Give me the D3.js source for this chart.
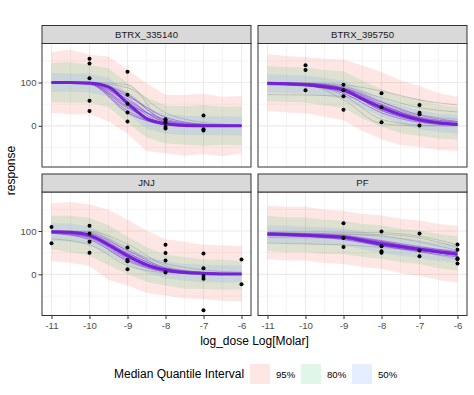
<!DOCTYPE html>
<html>
<head>
<meta charset="utf-8">
<script src="https://cdn.jsdelivr.net/npm/d3@7"></script>
<style>
  body { margin: 0; background: #fff; }
  svg { display: block; font-family: "Liberation Sans", Arial, sans-serif; }
</style>
</head>
<body>
<div id="chart"></div>
<script>
var panelNames = ['BTRX_335140', 'BTRX_395750', 'JNJ', 'PF'];
var doseGrid = [-11, -10.5, -10, -9.5, -9, -8.5, -8, -7.5, -7, -6.5, -6];
var doseTicks = [-11, -10, -9, -8, -7, -6];
var responseTicks = [0, 100];
var intervalLabels = ['95%', '80%', '50%'];

// BTRX_335140
var median335140 = [100, 100, 99, 90, 52, 17, 5, 1, 0, 0, 0];
var hi95_335140 = [170, 176, 164, 160, 130, 98, 72, 71, 74, 67, 69];
var lo95_335140 = [30, 26, 27, 10, -18, -58, -63, -69, -65, -70, -64];
var hi80_335140 = [145, 147, 141, 133, 99, 66, 47, 46, 48, 44, 45];
var lo80_335140 = [55, 53, 54, 43, 7, -27, -41, -43, -46, -44, -45];
var hi50_335140 = [122, 121, 120, 111, 76, 41, 27, 23, 22, 22, 21];
var lo50_335140 = [78, 79, 77, 67, 28, -6, -18, -21, -22, -22, -23];
var gray335140 = [
  [100, 100, 95, 8, 1, 0],
  [100, 99, 88, 30, 8, 2],
  [100, 97, 40, 5, 0, 0],
  [100, 99, 75, 12, 1, 0],
  [99, 95, 30, 3, 0, 0]
];
var purple335140 = [
  [100, 99, 55, 5, 0, 0],
  [100, 98, 45, 3, 0, 0],
  [100, 99, 62, 8, 1, 0],
  [100, 97, 30, 4, 0, 0],
  [100, 99, 72, 12, 2, 0],
  [100, 98, 50, 15, 3, 1],
  [99, 96, 35, 2, 0, 0],
  [100, 99, 68, 20, 4, 1],
  [100, 98, 58, 10, 1, 0],
  [100, 97, 42, 6, 1, 0]
];
var dose335140 = [-10, -10, -10, -10, -10, -9, -9, -9, -9, -9, -8, -8, -8, -8, -8, -7, -7, -7];
var resp335140 = [155, 144, 110, 58, 34, 125, 72, 51, 31, 10, 15, 11, 7, -2, -6, 24, -8, -11];

// BTRX_395750
var median395750 = [98, 97, 95, 90, 83, 62, 42, 26, 14, 7, 3];
var hi95_395750 = [165, 161, 159, 155, 153, 139, 124, 105, 92, 75, 67];
var lo95_395750 = [34, 31, 29, 21, 13, -12, -31, -45, -49, -56, -58];
var hi80_395750 = [138, 136, 135, 129, 126, 104, 85, 69, 62, 49, 43];
var lo80_395750 = [57, 55, 54, 47, 41, 17, -2, -17, -23, -30, -32];
var hi50_395750 = [119, 118, 116, 111, 104, 84, 63, 47, 36, 28, 25];
var lo50_395750 = [77, 76, 74, 69, 62, 40, 21, 5, -8, -14, -18];
var gray395750 = [
  [100, 99, 95, 80, 60, 48],
  [100, 98, 90, 65, 42, 32],
  [98, 96, 80, 40, 18, 10],
  [97, 95, 60, 5, 0, 0],
  [95, 92, 70, 15, 2, 0],
  [100, 99, 92, 55, 20, 8],
  [72, 71, 68, 45, 25, 15]
];
var purple395750 = [
  [98, 96, 84, 42, 14, 3],
  [99, 97, 86, 48, 18, 5],
  [97, 95, 80, 36, 10, 2],
  [99, 98, 88, 55, 25, 10],
  [96, 93, 75, 30, 8, 1],
  [98, 97, 85, 45, 20, 8],
  [100, 98, 82, 35, 12, 4],
  [95, 92, 78, 40, 15, 5],
  [99, 97, 87, 50, 16, 3],
  [97, 96, 83, 39, 11, 2]
];
var dose395750 = [-10, -10, -10, -9, -9, -9, -9, -8, -8, -8, -7, -7, -7, -7];
var resp395750 = [140, 129, 82, 95, 82, 68, 37, 75, 43, 8, 48, 30, 27, 1];

// JNJ
var medianJNJ = [98, 97, 90, 68, 43, 22, 10, 4, 2, 1, 1];
var hi95_JNJ = [164, 167, 161, 149, 126, 101, 81, 75, 68, 67, 65];
var lo95_JNJ = [31, 26, 20, -13, -26, -43, -49, -56, -57, -61, -62];
var hi80_JNJ = [135, 135, 130, 113, 87, 63, 45, 40, 34, 34, 31];
var lo80_JNJ = [58, 51, 43, 21, 1, -17, -26, -33, -34, -36, -35];
var hi50_JNJ = [118, 117, 111, 89, 64, 42, 30, 24, 22, 21, 20];
var lo50_JNJ = [78, 76, 68, 46, 22, 3, -9, -15, -18, -19, -19];
var grayJNJ = [
  [100, 99, 70, 20, 5, 2],
  [82, 68, 20, 4, 1, 0],
  [100, 96, 60, 15, 4, 1],
  [95, 82, 30, 6, 1, 0],
  [100, 98, 55, 25, 10, 5]
];
var purpleJNJ = [
  [98, 90, 45, 10, 2, 1],
  [99, 92, 50, 12, 3, 1],
  [97, 86, 38, 8, 2, 0],
  [98, 88, 42, 11, 3, 1],
  [100, 94, 55, 15, 4, 1],
  [96, 84, 35, 7, 1, 0],
  [99, 91, 48, 14, 5, 2],
  [95, 80, 32, 6, 1, 0],
  [98, 89, 44, 9, 2, 0],
  [97, 87, 40, 12, 3, 1]
];
var doseJNJ = [-11, -11, -10, -10, -10, -10, -9, -9, -9, -9, -8, -8, -8, -8, -7, -7, -7, -7, -7, -6, -6];
var respJNJ = [109, 72, 112, 94, 75, 50, 62, 33, 30, 12, 68, 49, 32, 4, 48, 14, -4, -10, -83, 34, -23];

// PF
var medianPF = [93, 92, 90, 88, 86, 78, 70, 64, 58, 52, 47];
var hi95_PF = [158, 156, 156, 149, 147, 139, 136, 128, 124, 116, 112];
var lo95_PF = [35, 32, 32, 26, 24, 17, 13, 3, -3, -13, -19];
var hi80_PF = [135, 132, 131, 126, 124, 116, 113, 105, 101, 93, 88];
var lo80_PF = [54, 51, 51, 47, 47, 40, 36, 28, 24, 14, 8];
var hi50_PF = [113, 112, 110, 108, 106, 99, 91, 85, 79, 73, 68];
var lo50_PF = [73, 72, 70, 68, 66, 58, 49, 43, 37, 31, 26];
var grayPF = [
  [98, 98, 97, 96, 88, 68],
  [72, 70, 68, 62, 52, 35],
  [95, 94, 92, 88, 75, 55],
  [85, 84, 82, 76, 60, 40],
  [96, 95, 93, 92, 84, 62]
];
var purplePF = [
  [93, 91, 86, 72, 58, 47],
  [95, 93, 88, 75, 60, 50],
  [90, 88, 83, 68, 55, 44],
  [94, 92, 87, 74, 62, 52],
  [92, 89, 82, 66, 52, 40],
  [96, 94, 90, 78, 64, 52],
  [89, 87, 80, 65, 54, 45],
  [93, 92, 88, 76, 58, 43],
  [94, 91, 85, 70, 57, 46],
  [91, 90, 86, 73, 60, 48]
];
var dosePF = [-9, -9, -9, -8, -8, -8, -8, -7, -7, -7, -6, -6, -6, -6, -6];
var respPF = [118, 84, 63, 99, 65, 53, 50, 94, 55, 42, 69, 57, 37, 35, 25];

// table of panels built from the arrays above
var panelData = [
  {median: median335140, bands: [[lo95_335140, hi95_335140], [lo80_335140, hi80_335140], [lo50_335140, hi50_335140]],
   gray: gray335140, purple: purple335140, dose: dose335140, resp: resp335140},
  {median: median395750, bands: [[lo95_395750, hi95_395750], [lo80_395750, hi80_395750], [lo50_395750, hi50_395750]],
   gray: gray395750, purple: purple395750, dose: dose395750, resp: resp395750},
  {median: medianJNJ, bands: [[lo95_JNJ, hi95_JNJ], [lo80_JNJ, hi80_JNJ], [lo50_JNJ, hi50_JNJ]],
   gray: grayJNJ, purple: purpleJNJ, dose: doseJNJ, resp: respJNJ},
  {median: medianPF, bands: [[lo95_PF, hi95_PF], [lo80_PF, hi80_PF], [lo50_PF, hi50_PF]],
   gray: grayPF, purple: purplePF, dose: dosePF, resp: respPF}
];
panelData.forEach(function(p, i) { p.name = panelNames[i]; });

var width = 474,
    height = 395,
    panelW = 209,
    stripH = 18,
    bodyH = 123.5,
    gap = 7,
    margin = {left: 42, top: 25.5};

var bandFill = ['#F8766D', '#00BA38', '#619CFF'],
    bandAlpha = [0.18, 0.12, 0.17];

var svg = d3.select('#chart').append('svg')
    .attr('width', width)
    .attr('height', height);

var xScale = d3.scaleLinear().domain([-11.25, -5.75]).range([0, panelW]);
var yScale = d3.scaleLinear().domain([-95, 190]).range([stripH + bodyH, stripH]);

var area = d3.area()
    .x(function(d, j) { return xScale(doseGrid[j]); })
    .y0(function(d) { return yScale(d[0]); })
    .y1(function(d) { return yScale(d[1]); });

var medianLine = d3.line()
    .x(function(d, j) { return xScale(doseGrid[j]); })
    .y(function(d) { return yScale(d); })
    .curve(d3.curveMonotoneX);

var drawLine = d3.line()
    .x(function(d, j) { return xScale(doseTicks[j]); })
    .y(function(d) { return yScale(d); })
    .curve(d3.curveMonotoneX);

panelData.forEach(function(p, i) {
    var col = i % 2, row = Math.floor(i / 2);
    var g = svg.append('g')
        .attr('transform', 'translate(' + (margin.left + col * (panelW + gap)) + ',' + (margin.top + row * (stripH + bodyH + gap)) + ')');

    // grid
    var grid = g.append('g');
    grid.selectAll('line.minx').data([-10.5, -9.5, -8.5, -7.5, -6.5]).enter().append('line')
        .attr('x1', xScale).attr('x2', xScale)
        .attr('y1', stripH).attr('y2', stripH + bodyH)
        .attr('stroke', '#EBEBEB').attr('stroke-width', 0.55);
    grid.selectAll('line.miny').data([-50, 50, 150]).enter().append('line')
        .attr('x1', 0).attr('x2', panelW)
        .attr('y1', yScale).attr('y2', yScale)
        .attr('stroke', '#EBEBEB').attr('stroke-width', 0.55);
    grid.selectAll('line.majx').data(doseTicks).enter().append('line')
        .attr('x1', xScale).attr('x2', xScale)
        .attr('y1', stripH).attr('y2', stripH + bodyH)
        .attr('stroke', '#EBEBEB').attr('stroke-width', 1.1);
    grid.selectAll('line.majy').data(responseTicks).enter().append('line')
        .attr('x1', 0).attr('x2', panelW)
        .attr('y1', yScale).attr('y2', yScale)
        .attr('stroke', '#EBEBEB').attr('stroke-width', 1.1);

    // quantile ribbons
    p.bands.forEach(function(b, k) {
        g.append('path')
            .datum(d3.zip(b[0], b[1]))
            .attr('d', area)
            .attr('fill', bandFill[k])
            .attr('fill-opacity', bandAlpha[k]);
    });

    g.selectAll('path.gray').data(p.gray).enter().append('path')
        .attr('d', drawLine)
        .attr('fill', 'none')
        .attr('stroke', '#808080')
        .attr('stroke-opacity', 0.6)
        .attr('stroke-width', 0.6);

    g.selectAll('path.purple').data(p.purple).enter().append('path')
        .attr('d', drawLine)
        .attr('fill', 'none')
        .attr('stroke', '#8a35e0')
        .attr('stroke-opacity', 0.55)
        .attr('stroke-width', 1);

    g.append('path')
        .datum(p.median)
        .attr('d', medianLine)
        .attr('fill', 'none')
        .attr('stroke', '#7420d6')
        .attr('stroke-width', 3);

    g.selectAll('circle').data(d3.zip(p.dose, p.resp)).enter().append('circle')
        .attr('cx', function(d) { return xScale(d[0]); })
        .attr('cy', function(d) { return yScale(d[1]); })
        .attr('r', 2)
        .attr('fill', '#000');

    // border + strip
    g.append('rect')
        .attr('y', stripH).attr('width', panelW).attr('height', bodyH)
        .attr('fill', 'none').attr('stroke', '#333').attr('stroke-width', 1);
    g.append('rect')
        .attr('width', panelW).attr('height', stripH)
        .attr('fill', '#D9D9D9').attr('stroke', '#333').attr('stroke-width', 1);
    g.append('text')
        .attr('x', panelW / 2).attr('y', stripH / 2 + 3.4)
        .attr('text-anchor', 'middle')
        .attr('font-size', 9.6)
        .attr('fill', '#1A1A1A')
        .text(p.name);

    if (col === 0) {
        var yAxis = g.append('g')
            .call(d3.axisLeft(yScale).tickValues(responseTicks).tickSize(3.5).tickPadding(2));
        styleAxis(yAxis);
    }
    if (row === 1) {
        var xAxis = g.append('g')
            .attr('transform', 'translate(0,' + (stripH + bodyH) + ')')
            .call(d3.axisBottom(xScale).tickValues(doseTicks).tickSize(3.5).tickPadding(3)
                .tickFormat(function(d) { return String(d); }));
        styleAxis(xAxis);
    }
});

function styleAxis(a) {
    a.select('.domain').remove();
    a.selectAll('line').attr('stroke', '#333').attr('stroke-width', 1);
    a.selectAll('text')
        .attr('fill', '#4D4D4D')
        .attr('font-size', 9.6)
        .attr('font-family', '"Liberation Sans", Arial, sans-serif');
}

// axis titles
svg.append('text')
    .attr('x', margin.left + panelW + gap / 2)
    .attr('y', 345)
    .attr('text-anchor', 'middle')
    .attr('font-size', 12)
    .attr('fill', '#000')
    .text('log_dose Log[Molar]');

svg.append('text')
    .attr('transform', 'translate(15,' + (margin.top + stripH + bodyH + gap / 2) + ') rotate(-90)')
    .attr('text-anchor', 'middle')
    .attr('font-size', 12)
    .attr('fill', '#000')
    .text('response');

// legend
var legend = svg.append('g').attr('transform', 'translate(0,364)');
legend.append('text')
    .attr('x', 114).attr('y', 14)
    .attr('font-size', 12)
    .attr('fill', '#000')
    .text('Median Quantile Interval');

var keys = legend.selectAll('g.key').data(intervalLabels).enter().append('g')
    .attr('transform', function(d, k) { return 'translate(' + (250 + k * 51) + ',0)'; });
keys.append('rect')
    .attr('width', 20).attr('height', 20)
    .attr('fill', function(d, k) { return bandFill[k]; })
    .attr('fill-opacity', function(d, k) { return bandAlpha[k]; });
keys.append('text')
    .attr('x', 26).attr('y', 13.5)
    .attr('font-size', 9.6)
    .attr('fill', '#000')
    .text(function(d) { return d; });
</script>
</body>
</html>
